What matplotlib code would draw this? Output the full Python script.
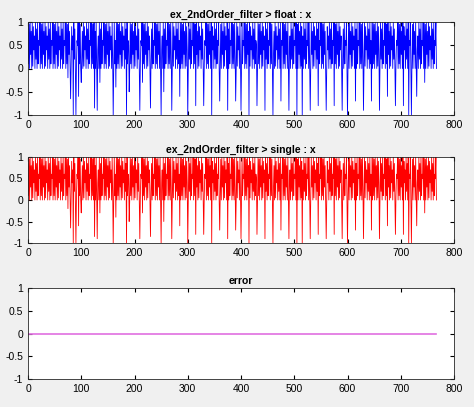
import numpy as np
import matplotlib.pyplot as plt

n_samples = 768
# heights: upper samples and lower samples repeat
highs = [1, 0.95, 1, 0.8, 1, 0.9, 0.7, 1, 0.85, 1, 0.6, 1]
lows = [0.1, 0.0, 0.3, 0.0, 0.05, 0.4, 0.0, 0.2, 0.0, 0.1, 0.5, 0.0]
# negative dips (sample index, value)
dip_x = [75, 80, 85, 90, 95, 100, 125, 130, 135, 160, 165, 185, 190, 210, 215, 230,
         250, 255, 270, 285, 300, 315, 330, 345, 360, 375, 390, 400, 415, 430, 445,
         460, 475, 490, 505, 515, 530, 545, 560, 575, 590, 600, 615, 630, 645, 660,
         675, 690, 705, 715, 720, 730, 745]
dip_y = [-0.2, -0.65, -1, -1, -0.6, -0.3, -0.85, -0.9, -0.3, -1, -0.4, -1, -0.5, -0.9,
         -0.3, -0.85, -1, -0.5, -0.9, -0.6, -1, -0.8, -0.8, -1, -0.7, -0.9, -0.7, -0.9,
         -1, -0.8, -0.9, -1, -0.7, -0.9, -1, -1, -0.9, -0.8, -0.9, -0.8, -0.9, -1, -0.7,
         -0.9, -0.7, -0.9, -0.6, -0.8, -0.8, -1, -1, -0.6, -0.3]

x = np.arange(n_samples)
sig = np.empty(n_samples)
for i in range(n_samples):
    if i % 2 == 0:
        sig[i] = highs[(i // 2) % len(highs)]
    else:
        sig[i] = lows[(i // 2) % len(lows)]
for dx, dy in zip(dip_x, dip_y):
    sig[dx] = dy
err = np.zeros(n_samples)

bg = '#f0f0f0'
fig = plt.figure(figsize=(4.74, 4.07), dpi=100, facecolor=bg)
plt.rcParams['font.family'] = 'Liberation Sans'
W, H = 474, 407
panels = [
    (22, 93, "ex_2ndOrder_filter > float : x", sig, 'blue'),
    (157, 86, "ex_2ndOrder_filter > single : x", sig, 'red'),
    (288, 91, "error", err, '#e070e0'),
]
for top, h, title, y, col in panels:
    ax = fig.add_axes([28 / W, 1 - (top + h) / H, 426 / W, h / H])
    ax.plot(x, y, color=col, lw=0.6 if col != '#e070e0' else 1.2)
    ax.set_xlim(0, 800)
    ax.set_ylim(-1, 1)
    ax.set_xticks(range(0, 801, 100))
    ax.set_yticks([-1, -0.5, 0, 0.5, 1])
    ax.set_yticklabels(['-1', '-0.5', '0', '0.5', '1'])
    ax.tick_params(labelsize=7.5, direction='in', length=3, top=True, right=True)
    ax.set_title(title, fontsize=7.5, fontweight='bold', pad=3)
    for s in ax.spines.values():
        s.set_linewidth(0.6)
        s.set_color('#262626')

fig.savefig('out.png', dpi=100, facecolor=bg)
